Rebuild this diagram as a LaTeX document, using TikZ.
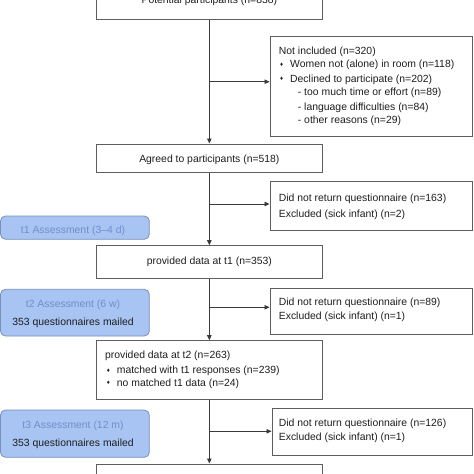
\documentclass[tikz,border=0pt]{standalone}
\usepackage{fontspec}
\setmainfont{Liberation Sans}
\usetikzlibrary{arrows.meta}
\definecolor{boxgray}{HTML}{5E5E5E}
\definecolor{linegray}{HTML}{3A3A3A}
\definecolor{assessfill}{HTML}{A8C4F2}
\definecolor{assessborder}{HTML}{7890B8}
\definecolor{assesstext}{HTML}{6F8FCB}
\definecolor{txtcol}{HTML}{1E1E1E}
\newcommand{\fsz}{\fontsize{10.4}{12}\selectfont}
\newcommand{\bul}{{\fontsize{6}{6}\selectfont ♦}}
\begin{document}
\begin{tikzpicture}[x=1pt,y=-1pt,
  box/.style={draw=boxgray, line width=1pt, fill=white, inner sep=0pt},
  assess/.style={draw=assessborder, fill=assessfill, line width=0.8pt, rounded corners=5pt, inner sep=0pt},
  txt/.style={anchor=base west, inner sep=0pt, font=\fsz, text=txtcol},
  ctxt/.style={anchor=base, inner sep=0pt, font=\fsz, text=txtcol},
  atxt/.style={anchor=base, inner sep=0pt, font=\fsz, text=assesstext},
  bl/.style={anchor=center, inner sep=0pt, text=txtcol},
  arr/.style={-{Triangle[length=5pt,width=4.5pt]}, line width=0.9pt, draw=linegray},
  ln/.style={line width=0.9pt, draw=linegray}]
\useasboundingbox (0,0) rectangle (474,474);
\clip (0,0) rectangle (474,474);
\fill[white] (0,0) rectangle (474,474);

% main column boxes
\node[box, minimum width=225.3pt, minimum height=39.3pt] (pot) at (209.35,-0.35) {};
\node[ctxt] (potT) at (209.35,3.5) {Potential participants (n=838)};
\node[box, minimum width=225.3pt, minimum height=28pt] (agr) at (209.35,158) {};
\node[ctxt] (agrT) at (209.35,162) {Agreed to participants (n=518)};
\node[box, minimum width=225.3pt, minimum height=32.3pt] (pt1) at (209.35,261.85) {};
\node[ctxt] (pt1T) at (209.35,264.4) {provided data at t1 (n=353)};
\node[box, minimum width=225.3pt, minimum height=58.6pt] (pt2) at (209.35,370) {};
\node[txt] (pt2a) at (105,358.7) {provided data at t2 (n=263)};
\node[bl] (pt2b1) at (108.3,370.3) {\bul};
\node[txt] (pt2b) at (116.7,373.7) {matched with t1 responses (n=239)};
\node[bl] (pt2c1) at (108.3,383) {\bul};
\node[txt] (pt2c) at (116.7,386.4) {no matched t1 data (n=24)};
\node[box, minimum width=225.3pt, minimum height=36pt] (fin) at (209.35,482) {};

% side boxes
\node[box, minimum width=202.7pt, minimum height=100.7pt] (ni) at (371.35,86.35) {};
\node[txt] (ni1) at (278.7,54.4) {Not included (n=320)};
\node[bl] (nib1) at (281.7,64.3) {\bul};
\node[txt] (ni2) at (290,67.7) {Women not (alone) in room (n=118)};
\node[bl] (nib2) at (281.7,78.6) {\bul};
\node[txt] (ni3) at (290,82) {Declined to participate (n=202)};
\node[txt] (ni4) at (297.7,95.4) {- too much time or effort (n=89)};
\node[txt] (ni5) at (297.7,110.4) {- language difficulties (n=84)};
\node[txt] (ni6) at (297.7,123) {- other reasons (n=29)};

\node[box, minimum width=202.7pt, minimum height=49pt] (ex1) at (371.35,206.2) {};
\node[txt] (ex1a) at (278.7,201) {Did not return questionnaire (n=163)};
\node[txt] (ex1b) at (278.7,217) {Excluded (sick infant) (n=2)};

\node[box, minimum width=202.7pt, minimum height=45.7pt] (ex2) at (371.35,311.15) {};
\node[txt] (ex2a) at (278.7,305.7) {Did not return questionnaire (n=89)};
\node[txt] (ex2b) at (278.7,319.4) {Excluded (sick infant) (n=1)};

\node[box, minimum width=200.7pt, minimum height=46.7pt] (ex3) at (372.35,431.65) {};
\node[txt] (ex3a) at (278.7,426.4) {Did not return questionnaire (n=126)};
\node[txt] (ex3b) at (278.7,440.4) {Excluded (sick infant) (n=1)};

% assessment boxes
\node[assess, minimum width=148.8pt, minimum height=23.3pt] (as1) at (74.9,227.65) {};
\node[atxt] (as1T) at (73,233) {t1 Assessment (3–4 d)};
\node[assess, minimum width=148.8pt, minimum height=46.7pt] (as2) at (74.9,312.65) {};
\node[atxt] (as2T) at (73,307.7) {t2 Assessment (6 w)};
\node[ctxt] (as2M) at (73,325.4) {353 questionnaires mailed};
\node[assess, minimum width=148.8pt, minimum height=47.3pt] (as3) at (74.9,433.65) {};
\node[atxt] (as3T) at (73,428) {t3 Assessment (12 m)};
\node[ctxt] (as3M) at (73,446) {353 questionnaires mailed};

% connectors
\coordinate (b1) at (209.35,81.7);
\coordinate (b2) at (209.35,204);
\coordinate (b3) at (209.35,307.3);
\coordinate (b4) at (209.35,431.3);
\draw[arr] (pot.south) -- (agr.north);
\draw[arr] (b1) -- (b1 -| ni.west);
\draw[arr] (agr.south) -- (pt1.north);
\draw[arr] (b2) -- (b2 -| ex1.west);
\draw[arr] (pt1.south) -- (pt2.north);
\draw[arr] (b3) -- (b3 -| ex2.west);
\draw[arr] (pt2.south) -- (fin.north);
\draw[arr] (b4) -- (b4 -| ex3.west);
\end{tikzpicture}
\end{document}
